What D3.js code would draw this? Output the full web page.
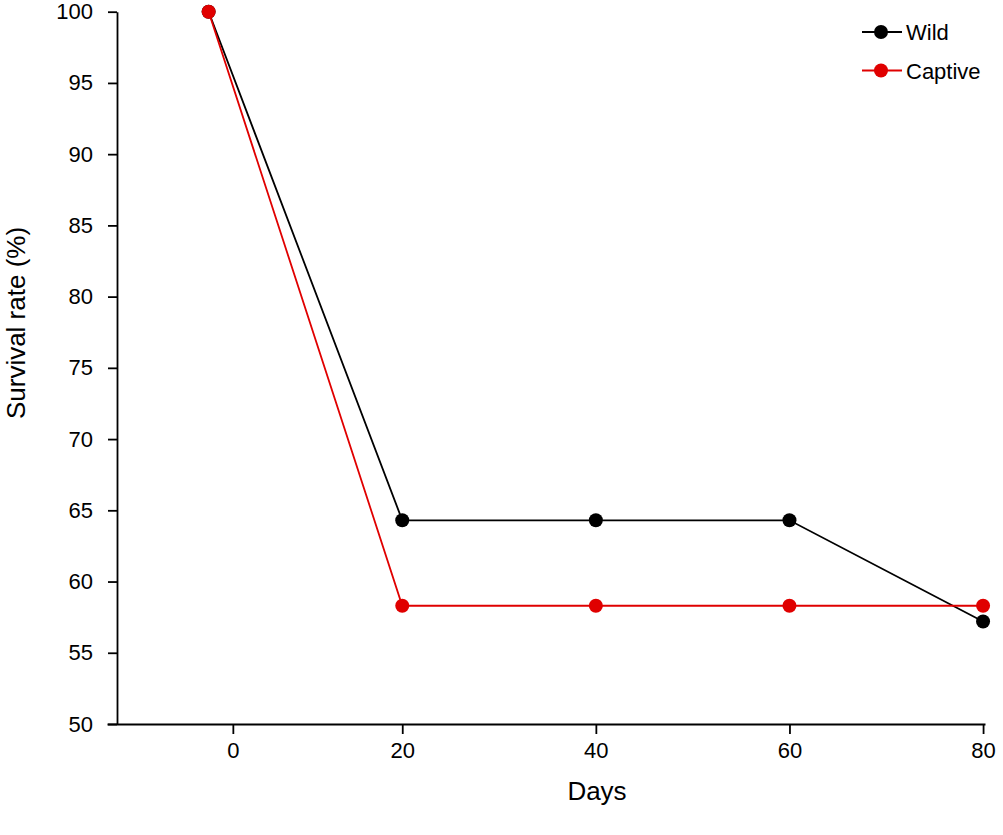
<!DOCTYPE html>
<html>
<head>
<meta charset="utf-8">
<script src="https://cdn.jsdelivr.net/npm/d3@7"></script>
<style>
  body { margin: 0; background: #fff; }
  svg { display: block; font-family: "Liberation Sans", Arial, sans-serif; }
</style>
</head>
<body>
<svg id="chart" width="1003" height="835"></svg>
<script>
// ---- data ----
const days = [0, 20, 40, 60, 80];
const wild = [100, 64.3, 64.3, 64.3, 57.2];
const captive = [100, 58.3, 58.3, 58.3, 58.3];
const seriesNames = ["Wild", "Captive"];
const seriesColors = ["#000000", "#e00000"];
// tick positions (in day units) as they appear on the original axis, and their labels
const xTickValues = [2.5, 20, 40, 60, 80];
const xTickLabels = ["0", "20", "40", "60", "80"];
const yTickValues = [50, 55, 60, 65, 70, 75, 80, 85, 90, 95, 100];

const svg = d3.select("#chart");

const x = d3.scaleLinear().domain([-10.5, 80.2]).range([107, 985]);
const y = d3.scaleLinear().domain([50, 100]).range([724, 11.7]);
const yAxisX = 117;

// x axis
const xAxis = svg.append("g")
  .attr("transform", `translate(0,${y(50)})`)
  .call(d3.axisBottom(x).tickValues(xTickValues)
    .tickFormat((d, i) => xTickLabels[i]).tickSize(10).tickPadding(8).tickSizeOuter(0));
xAxis.select(".domain").attr("stroke-width", 1.8);
xAxis.selectAll(".tick line").attr("stroke-width", 1.8);
xAxis.selectAll(".tick text").attr("font-size", 22).attr("fill", "#000")
  .attr("font-family", "Liberation Sans, Arial, sans-serif");

// y axis
const yAxis = svg.append("g")
  .attr("transform", `translate(${yAxisX},0)`)
  .call(d3.axisLeft(y).tickValues(yTickValues).tickSize(9).tickPadding(15).tickSizeOuter(0));
yAxis.select(".domain").attr("stroke-width", 1.8);
yAxis.selectAll(".tick line").attr("stroke-width", 1.8);
yAxis.selectAll(".tick text").attr("font-size", 22).attr("fill", "#000")
  .attr("font-family", "Liberation Sans, Arial, sans-serif");

// axis titles
svg.append("text")
  .attr("x", 597).attr("y", 800)
  .attr("text-anchor", "middle").attr("font-size", 26).attr("fill", "#000")
  .text("Days");
svg.append("text")
  .attr("transform", "translate(25,323) rotate(-90)")
  .attr("text-anchor", "middle").attr("font-size", 26).attr("fill", "#000")
  .text("Survival rate (%)");

// series
const allSeries = [wild, captive];
const line = d3.line().x(d => x(d[0])).y(d => y(d[1]));
allSeries.forEach((vals, si) => {
  const pts = days.map((d, i) => [d, vals[i]]);
  svg.append("path")
    .datum(pts)
    .attr("d", line)
    .attr("fill", "none")
    .attr("stroke", seriesColors[si])
    .attr("stroke-width", 1.8);
  svg.selectAll(null)
    .data(pts)
    .enter().append("circle")
    .attr("cx", d => x(d[0]))
    .attr("cy", d => y(d[1]))
    .attr("r", 7)
    .attr("fill", seriesColors[si]);
});

// legend
const legend = svg.append("g");
seriesNames.forEach((name, i) => {
  const ly = 32 + i * 38.5;
  legend.append("line")
    .attr("x1", 862).attr("x2", 902).attr("y1", ly).attr("y2", ly)
    .attr("stroke", seriesColors[i]).attr("stroke-width", 1.8);
  legend.append("circle")
    .attr("cx", 881).attr("cy", ly).attr("r", 7).attr("fill", seriesColors[i]);
  legend.append("text")
    .attr("x", 906).attr("y", ly + 8)
    .attr("font-size", 22).attr("fill", "#000")
    .text(name);
});
</script>
</body>
</html>
